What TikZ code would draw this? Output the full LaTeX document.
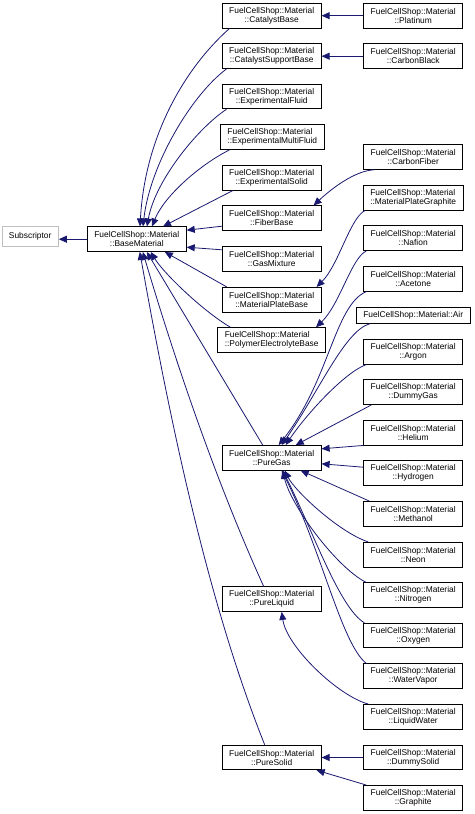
\documentclass[tikz,border=0pt]{standalone}
\usepackage{fontspec}
\setmainfont{Liberation Sans}
\usetikzlibrary{arrows.meta}
\definecolor{edgeblue}{HTML}{191970}
\definecolor{undoc}{HTML}{BFBFBF}
\begin{document}
\begin{tikzpicture}[x=1pt,y=-1pt,
  cls/.style={draw=black,fill=white,line width=0.8pt,font=\fontsize{8.4}{9}\selectfont,align=center,minimum width=99pt,minimum height=24.7pt,inner xsep=7pt,inner ysep=1pt},
  inh/.style={draw=edgeblue,line width=0.8pt,-{Triangle[length=8pt,width=7pt]}}]
\useasboundingbox (0,0) rectangle (474,814);

\node[cls,draw=undoc,minimum width=55pt,minimum height=20pt] (sub) at (30.2,236.7) {Subscriptor};
\node[cls] (bm) at (136.8,239.2) {FuelCellShop::Material\\::BaseMaterial};

\node[cls] (cb) at (271.7,15.7) {FuelCellShop::Material\\::CatalystBase};
\node[cls] (csb) at (271.7,56.2) {FuelCellShop::Material\\::CatalystSupportBase};
\node[cls] (ef) at (271.7,96.5) {FuelCellShop::Material\\::ExperimentalFluid};
\node[cls,align=left] (emf) at (272.3,137.2) {FuelCellShop::Material\\::ExperimentalMultiFluid};
\node[cls] (es) at (271.7,177.8) {FuelCellShop::Material\\::ExperimentalSolid};
\node[cls] (fb) at (271.7,218.2) {FuelCellShop::Material\\::FiberBase};
\node[cls] (gm) at (271.7,258.8) {FuelCellShop::Material\\::GasMixture};
\node[cls] (mpb) at (271.7,299.7) {FuelCellShop::Material\\::MaterialPlateBase};
\node[cls,align=left] (peb) at (271.7,340) {FuelCellShop::Material\\::PolymerElectrolyteBase};
\node[cls] (pg) at (271.7,457.8) {FuelCellShop::Material\\::PureGas};
\node[cls] (pl) at (271.7,599.2) {FuelCellShop::Material\\::PureLiquid};
\node[cls] (ps) at (271.7,757.5) {FuelCellShop::Material\\::PureSolid};

\node[cls] (pt) at (413.2,15.7) {FuelCellShop::Material\\::Platinum};
\node[cls] (cbl) at (413.2,56.2) {FuelCellShop::Material\\::CarbonBlack};
\node[cls] (cf) at (413.2,157) {FuelCellShop::Material\\::CarbonFiber};
\node[cls,align=left] (mpg) at (413.2,197.8) {FuelCellShop::Material\\::MaterialPlateGraphite};
\node[cls] (naf) at (413.2,238.2) {FuelCellShop::Material\\::Nafion};
\node[cls] (ace) at (413.2,278.8) {FuelCellShop::Material\\::Acetone};
\node[cls,minimum height=15.6pt] (air) at (413.2,315.5) {FuelCellShop::Material::Air};
\node[cls] (arg) at (413.2,351.8) {FuelCellShop::Material\\::Argon};
\node[cls] (dg) at (413.2,392.2) {FuelCellShop::Material\\::DummyGas};
\node[cls] (he) at (413.2,432.7) {FuelCellShop::Material\\::Helium};
\node[cls] (h2) at (413.2,473.2) {FuelCellShop::Material\\::Hydrogen};
\node[cls] (meth) at (413.2,513.8) {FuelCellShop::Material\\::Methanol};
\node[cls] (ne) at (413.2,554.7) {FuelCellShop::Material\\::Neon};
\node[cls] (n2) at (413.2,595.2) {FuelCellShop::Material\\::Nitrogen};
\node[cls] (o2) at (413.2,635.5) {FuelCellShop::Material\\::Oxygen};
\node[cls] (wv) at (413.2,676.2) {FuelCellShop::Material\\::WaterVapor};
\node[cls] (lw) at (413.2,716.8) {FuelCellShop::Material\\::LiquidWater};
\node[cls] (ds) at (413.2,757.5) {FuelCellShop::Material\\::DummySolid};
\node[cls] (gr) at (413.2,797.8) {FuelCellShop::Material\\::Graphite};

\draw[inh] (bm.west) -- (bm.west -| sub.east);
\draw[inh] (pt) -- (cb);
\draw[inh] (cbl) -- (csb);
\draw[inh] (ds) -- (ps);

\draw[inh] ([xshift=7.7pt]cb.south west) .. controls +(-45,40) and +(5,-90) .. ([xshift=3.2pt]bm.north);
\draw[inh] ([xshift=4.7pt]csb.south west) .. controls +(-35,26) and +(7,-62) .. ([xshift=6.2pt]bm.north);
\draw[inh] ([xshift=4.7pt]ef.south west) .. controls +(-30,20) and +(8,-45) .. ([xshift=10.2pt]bm.north);
\draw[inh] ([xshift=9.3pt]emf.south west) .. controls +(-30,15) and +(12,-30) .. ([xshift=15.2pt]bm.north);
\draw[inh] ([xshift=11pt]es.south west) -- ([xshift=26.2pt]bm.north);
\draw[inh] ([yshift=-8pt]fb.west) -- ([yshift=9pt]bm.east);
\draw[inh] ([yshift=9pt]gm.west) -- ([yshift=-8pt]bm.east);
\draw[inh] ([xshift=5pt]mpb.north west) -- ([xshift=28pt]bm.south);
\draw[inh] ([xshift=13pt]peb.north west) .. controls +(-30,-18) and +(12,20) .. ([xshift=14pt]bm.south);
\draw[inh] ([xshift=-9pt]pg.north) -- ([xshift=10pt]bm.south);
\draw[inh] ([xshift=-8pt]pl.north) .. controls +(-50,-110) and +(30,101) .. ([xshift=6pt]bm.south);
\draw[inh] ([xshift=-7pt]ps.north) .. controls +(-60,-150) and +(27,151) .. ([xshift=3pt]bm.south);

\draw[inh] ([xshift=11pt]cf.south west) .. controls +(-20,1) and +(17,-16) .. ([xshift=-8pt]fb.north east);
\draw[inh] ([xshift=2pt]mpg.south west) .. controls +(-15,8) and +(22,-22) .. ([xshift=-5pt]mpb.north east);
\draw[inh] ([xshift=3pt]naf.south west) .. controls +(-15,7) and +(24,-23) .. ([xshift=-10pt]peb.north east);

\draw[inh] ([xshift=3pt]ace.south west) .. controls +(-32,14) and +(51,-65) .. ([xshift=7pt]pg.north);
\draw[inh] ([xshift=14pt]air.south west) .. controls +(-25,7) and +(38,-55) .. ([xshift=10pt]pg.north);
\draw[inh] ([xshift=3pt]arg.south west) .. controls +(-22,8) and +(20,-30) .. ([xshift=14pt]pg.north);
\draw[inh] ([xshift=8pt]dg.south west) -- ([xshift=24pt]pg.north);
\draw[inh] (he.south west) -- ([yshift=9pt]pg.east);
\draw[inh] ([yshift=6pt]h2.west) -- ([yshift=-6pt]pg.east);
\draw[inh] ([xshift=6pt]meth.north west) -- ([xshift=29pt]pg.south);
\draw[inh] ([xshift=5pt]ne.north west) .. controls +(-30,-10) and +(10,20) .. ([xshift=13pt]pg.south);
\draw[inh] ([xshift=3pt]n2.north west) .. controls +(-30,-15) and +(8,35) .. ([xshift=11pt]pg.south);
\draw[inh] ([xshift=1pt]o2.north west) .. controls +(-25,-15) and +(30,60) .. ([xshift=11pt]pg.south);
\draw[inh] ([xshift=3pt]wv.north west) .. controls +(-25,-20) and +(40,80) .. ([xshift=10pt]pg.south);

\draw[inh] ([xshift=5pt]lw.north west) .. controls +(-30,-8) and +(5,35) .. ([xshift=10pt]pl.south);
\draw[inh] ([xshift=3pt]gr.north west) -- ([xshift=-5pt]ps.south east);

\end{tikzpicture}
\end{document}
